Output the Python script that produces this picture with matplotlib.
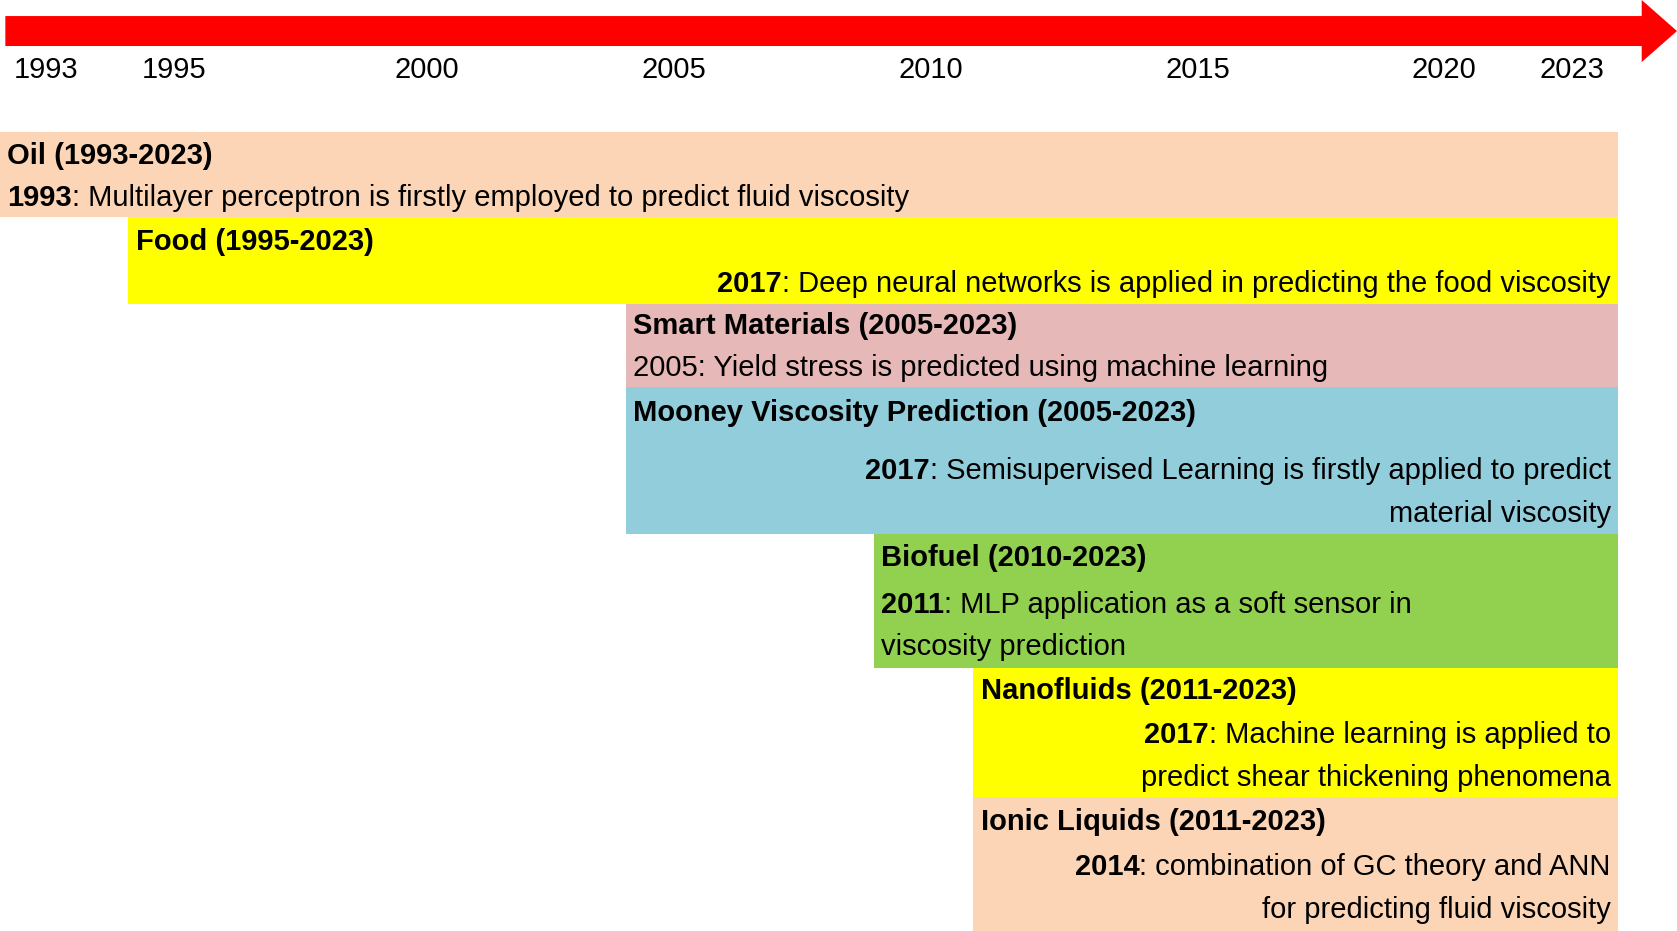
import matplotlib
matplotlib.use("Agg")
import matplotlib.pyplot as plt
from matplotlib.patches import Rectangle, FancyArrow

plt.rcParams['font.family'] = ['Liberation Sans', 'DejaVu Sans']

tick_years = [1993, 1995, 2000, 2005, 2010, 2015, 2020, 2023]
tick_pos = [43, 163, 399, 630, 870, 1120, 1350, 1470]
start_pos = {1993: 0, 1995: 120, 2005: 585, 2010: 817, 2011: 910}
end_pos = 1513

titles = ["Oil (1993-2023)", "Food (1995-2023)", "Smart Materials (2005-2023)",
          "Mooney Viscosity Prediction (2005-2023)", "Biofuel (2010-2023)",
          "Nanofluids (2011-2023)", "Ionic Liquids (2011-2023)"]
starts = [1993, 1995, 2005, 2005, 2010, 2011, 2011]
bold_parts = ["1993", "2017", "", "2017", "2011", "2017", "2014"]
desc_lines = [["Multilayer perceptron is firstly employed to predict fluid viscosity"],
              ["Deep neural networks is applied in predicting the food viscosity"],
              ["2005: Yield stress is predicted using machine learning"],
              ["Semisupervised Learning is firstly applied to predict", "material viscosity"],
              ["MLP application as a soft sensor in", "viscosity prediction"],
              ["Machine learning is applied to", "predict shear thickening phenomena"],
              ["combination of GC theory and ANN", "for predicting fluid viscosity"]]
align = ["left", "right", "left", "right", "left", "right", "right"]
colors = ["#FBD5B5", "#FFFF00", "#E6B8B7", "#92CDDC", "#92D050", "#FFFF00", "#FBD5B5"]
rows = [(123, 203), (203, 284), (284, 362), (362, 499), (499, 624), (624, 745), (745, 870)]
title_y = [146, 226, 305, 386, 521, 646, 768]
line_y = [[185], [265], [344], [440, 480], [565, 605], [687, 727], [810, 850]]

W, H = 1677, 931
fig = plt.figure(figsize=(W / 100, H / 100), dpi=100)
ax = fig.add_axes([0, 0, 1, 1])
ax.set_xlim(0, 1568)
ax.set_ylim(870, 0)
ax.axis('off')

ax.add_patch(FancyArrow(5, 29, 1530, 0, width=28, head_width=58, head_length=33,
                        length_includes_head=False, color='#FF0000', lw=0))
for y, p in zip(tick_years, tick_pos):
    ax.text(p, 65, str(y), ha='center', va='center', fontsize=21)

fig.canvas.draw()
r = fig.canvas.get_renderer()
fs = 21
for i in range(len(titles)):
    x0 = start_pos[starts[i]]
    y0, y1 = rows[i]
    ax.add_patch(Rectangle((x0, y0), end_pos - x0, y1 - y0, color=colors[i], lw=0))
    ax.text(x0 + 7, title_y[i], titles[i], fontweight='bold', fontsize=fs, va='center')
    for j, line in enumerate(desc_lines[i]):
        yy = line_y[i][j]
        b = bold_parts[i] if j == 0 else ""
        if align[i] == "left":
            if b:
                tb = ax.text(x0 + 7, yy, b, fontweight='bold', fontsize=fs, va='center')
                ext = tb.get_window_extent(r)
                xe = ax.transData.inverted().transform((ext.x1, ext.y0))[0]
                ax.text(xe, yy, ": " + line, fontsize=fs, va='center')
            else:
                ax.text(x0 + 7, yy, line, fontsize=fs, va='center')
        else:
            txt = (": " + line) if b else line
            tn = ax.text(end_pos - 7, yy, txt, fontsize=fs, va='center', ha='right')
            if b:
                ext = tn.get_window_extent(r)
                xs = ax.transData.inverted().transform((ext.x0, ext.y0))[0]
                ax.text(xs, yy, b, fontweight='bold', fontsize=fs, va='center', ha='right')

fig.savefig("out.png", dpi=100)
